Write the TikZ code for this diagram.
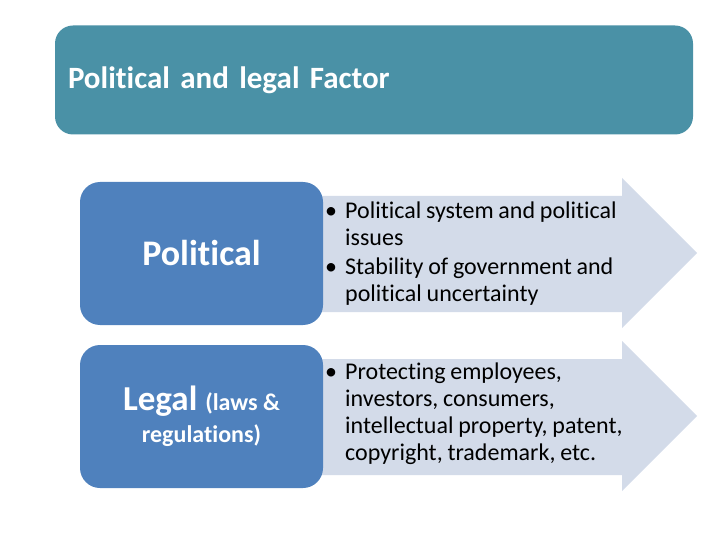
\documentclass[tikz,border=0pt]{standalone}
\usepackage{fontspec}
\setmainfont{Carlito}[Ligatures=NoCommon]
\usetikzlibrary{positioning,fit,calc,backgrounds}

\definecolor{factorteal}{RGB}{74,145,166}
\definecolor{factorblue}{RGB}{79,129,189}
\definecolor{factorgrey}{RGB}{211,219,233}

\newcommand{\factoritem}[1]{\hangindent=20pt\hangafter=1\noindent\makebox[20pt][l]{\textbullet}#1\par}
\newcommand{\factorfont}{\fontsize{24}{27}\selectfont\spaceskip=0.2em plus 0.05em\relax\parskip=2pt\relax}

\tikzset{
	titlebox/.style={fill=factorteal, rounded corners=18pt, text=white, font=\bfseries\fontsize{31}{34}\selectfont,
		minimum height=109pt, text width=612pt, inner xsep=13pt, align=left},
	factorbox/.style={fill=factorblue, rounded corners=20pt, text=white, font=\bfseries,
		minimum width=243pt, minimum height=143pt, align=center},
	factorarrow/.style={fill=factorgrey},
	factortext/.style={anchor=west, text width=360pt, inner sep=0pt, align=left},
}

\begin{document}
\begin{tikzpicture}[x=1pt,y=-1pt]
	\useasboundingbox (0,0) rectangle (720,540);
	% title bar
	\node[titlebox] (factor) at (374,80) {\raisebox{-5pt}{Political and legal Factor}};
	% arrows first, so that the boxes lie over their tails
	\fill[factorarrow] (300,196) -- (622,196) -- (622,178) -- (697,253)
		-- (622,328) -- (622,312) -- (300,312) -- cycle;
	\fill[factorarrow] (300,359) -- (622,359) -- (622,341) -- (697,416)
		-- (622,491) -- (622,475) -- (300,475) -- cycle;
	% left boxes
	\node[factorbox] (political) at (201.5,253.5) {\fontsize{36}{38}\selectfont Political};
	\node[factorbox] (legal) at (201.5,416.5)
		{\fontsize{35}{36}\selectfont Legal {\fontsize{24}{30}\selectfont(laws \&}\\[7pt]
		 \fontsize{24}{30}\selectfont regulations)};
	% bullet texts
	\node[factortext] (politicalitems) at (325,254) {\factorfont
		\factoritem{Political system and political\newline issues}
		\factoritem{Stability of government and\newline political uncertainty}};
	\node[factortext] (legalitems) at (325,414) {\factorfont
		\factoritem{Protecting employees,\newline investors, consumers,\newline intellectual property, patent,\newline copyright, trademark, etc.}};
\end{tikzpicture}
\end{document}
